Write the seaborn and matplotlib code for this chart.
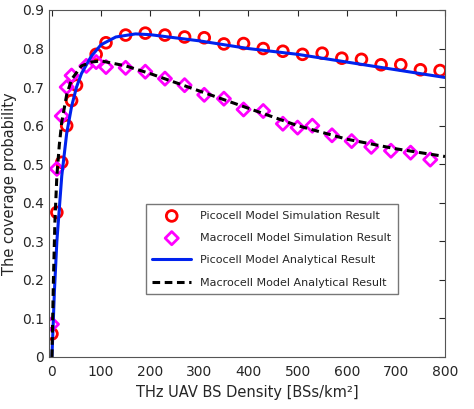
import numpy as np
import pandas as pd
import seaborn as sns
import matplotlib.pyplot as plt

pico_sim_x = [0, 10, 20, 30, 40, 50, 90, 110, 150, 190, 230, 270, 310, 350, 390, 430, 470, 510, 550, 590, 630, 670, 710, 750, 790]
pico_sim_y = [0.06, 0.375, 0.505, 0.6, 0.665, 0.705, 0.785, 0.815, 0.835, 0.84, 0.835, 0.83, 0.828, 0.812, 0.813, 0.8, 0.793, 0.785, 0.788, 0.775, 0.772, 0.758, 0.758, 0.745, 0.743]
macro_sim_x = [0, 10, 20, 30, 40, 70, 90, 110, 150, 190, 230, 270, 310, 350, 390, 430, 470, 500, 530, 570, 610, 650, 690, 730, 770]
macro_sim_y = [0.085, 0.488, 0.625, 0.7, 0.73, 0.755, 0.765, 0.752, 0.75, 0.74, 0.722, 0.705, 0.68, 0.67, 0.642, 0.638, 0.605, 0.595, 0.6, 0.575, 0.56, 0.545, 0.535, 0.53, 0.512]

pico_ana_x = [0, 5, 10, 20, 30, 40, 50, 60, 80, 100, 130, 170, 200, 300, 400, 500, 600, 700, 800]
pico_ana_y = [0, 0.17, 0.3, 0.47, 0.58, 0.65, 0.7, 0.735, 0.78, 0.81, 0.83, 0.838, 0.836, 0.82, 0.8, 0.785, 0.765, 0.745, 0.725]
macro_ana_x = [0, 3, 6, 10, 15, 20, 30, 40, 60, 80, 100, 150, 200, 300, 400, 500, 600, 700, 800]
macro_ana_y = [0, 0.2, 0.35, 0.47, 0.55, 0.61, 0.68, 0.72, 0.755, 0.765, 0.768, 0.755, 0.735, 0.69, 0.645, 0.6, 0.565, 0.54, 0.52]

sns.set_style("white")
fig = plt.figure(figsize=(4.74, 4.09), dpi=100)
ax = fig.add_axes([49/474, 1 - 357/409, (445-49)/474, (357-10)/409])

sns.scatterplot(x=pico_sim_x, y=pico_sim_y, ax=ax, marker='o', s=60, facecolors='none',
                edgecolor='red', linewidth=2, label='Picocell Model Simulation Result')
sns.scatterplot(x=macro_sim_x, y=macro_sim_y, ax=ax, marker='D', s=45, facecolors='none',
                edgecolor='#ff00ff', linewidth=2, label='Macrocell Model Simulation Result')
sns.lineplot(x=pico_ana_x, y=pico_ana_y, ax=ax, color='#0022ee', linewidth=2.2,
             label='Picocell Model Analytical Result')
sns.lineplot(x=macro_ana_x, y=macro_ana_y, ax=ax, color='black', linewidth=2.2,
             linestyle=(0, (2.5, 1.5)), label='Macrocell Model Analytical Result')

ax.set_xlim(-6, 800)
ax.set_ylim(0, 0.9)
ax.set_xticks(range(0, 801, 100))
ax.set_yticks(np.arange(0, 0.91, 0.1))
ax.set_yticklabels(['0', '0.1', '0.2', '0.3', '0.4', '0.5', '0.6', '0.7', '0.8', '0.9'])
ax.tick_params(direction='in', labelsize=10, length=4, top=True, right=True)
ax.tick_params(axis='x', pad=6)
for sp in ax.spines.values():
    sp.set_color('#555555')
ax.set_xlabel('THz UAV BS Density [BSs/km²]', fontsize=10.5)
ax.set_ylabel('The coverage probability', fontsize=10.5)
leg = ax.legend(loc='lower right', bbox_to_anchor=(0.895, 0.165), fontsize=8, frameon=True,
                fancybox=False, edgecolor='#555555', handlelength=3.5, labelspacing=1.1, borderpad=0.6)
fig.savefig('out.png', dpi=100)
